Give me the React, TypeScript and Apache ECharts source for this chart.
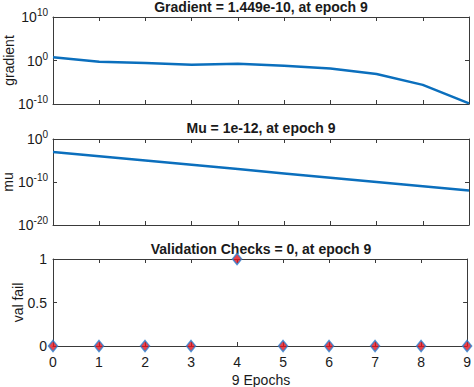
import React, { useEffect, useRef } from "react";
import * as echarts from "echarts";

const epochs = [0, 1, 2, 3, 4, 5, 6, 7, 8, 9];
const gradient = [5.9, 0.5, 0.25, 0.1, 0.17, 0.06, 0.014, 8e-4, 2.5e-6, 1.449e-10];
const mu = [1e-3, 1e-4, 1e-5, 1e-6, 1e-7, 1e-8, 1e-9, 1e-10, 1e-11, 1e-12];
const valFail = [0, 0, 0, 0, 1, 0, 0, 0, 0, 0];
const titles = [
  "Gradient = 1.449e-10, at epoch 9",
  "Mu = 1e-12, at epoch 9",
  "Validation Checks = 0, at epoch 9",
];
const yNames = ["gradient", "mu", "val fail"];
const xName = "9 Epochs";

const FONT = "'Liberation Sans', Arial, Helvetica, sans-serif";
const AXIS_COLOR = "#3a3a3a";
const TEXT_COLOR = "#1a1a1a";
const LINE_COLOR = "#0b6fbd";

const grids = [
  { left: 53, top: 17, width: 416, height: 87 },
  { left: 53, top: 139, width: 416, height: 86 },
  { left: 53, top: 259, width: 416, height: 87 },
];

const supFormatter = (v: number) => {
  const e = Math.round(Math.log10(v));
  return `{b|10}{s|${e}}`;
};

const richLabel = {
  b: { fontSize: 14, fontFamily: FONT, color: TEXT_COLOR },
  s: { fontSize: 10, fontFamily: FONT, color: TEXT_COLOR, padding: [0, 0, 9, 0] },
};

function xAxes(gridIndex: number, showLabels: boolean) {
  const base = {
    type: "value" as const,
    gridIndex,
    min: 0,
    max: 9,
    interval: 1,
    axisLine: { show: true, onZero: false, lineStyle: { color: AXIS_COLOR, width: 1 } },
    axisTick: { show: true, inside: true, length: 4, lineStyle: { color: AXIS_COLOR } },
    splitLine: { show: false },
  };
  return [
    {
      ...base,
      position: "bottom",
      axisLabel: {
        show: showLabels,
        fontSize: 14,
        fontFamily: FONT,
        color: TEXT_COLOR,
        margin: 9,
      },
    },
    { ...base, position: "top", axisLabel: { show: false } },
  ];
}

function yAxesLog(gridIndex: number, min: number, max: number) {
  const base = {
    type: "log" as const,
    logBase: 10,
    gridIndex,
    min,
    max,
    interval: 10,
    axisLine: { show: true, onZero: false, lineStyle: { color: AXIS_COLOR, width: 1 } },
    axisTick: { show: true, inside: true, length: 4, lineStyle: { color: AXIS_COLOR } },
    minorTick: { show: false },
    splitLine: { show: false },
  };
  return [
    {
      ...base,
      position: "left",
      axisLabel: {
        show: true,
        margin: 5,
        formatter: supFormatter,
        rich: richLabel,
      },
    },
    { ...base, position: "right", axisLabel: { show: false } },
  ];
}

function yAxesLin(gridIndex: number) {
  const base = {
    type: "value" as const,
    gridIndex,
    min: 0,
    max: 1,
    interval: 0.5,
    axisLine: { show: true, onZero: false, lineStyle: { color: AXIS_COLOR, width: 1 } },
    axisTick: { show: true, inside: true, length: 4, lineStyle: { color: AXIS_COLOR } },
    splitLine: { show: false },
  };
  return [
    {
      ...base,
      position: "left",
      axisLabel: { show: true, fontSize: 14, fontFamily: FONT, color: TEXT_COLOR, margin: 6 },
    },
    { ...base, position: "right", axisLabel: { show: false } },
  ];
}

export default function App() {
  const ref = useRef<HTMLDivElement>(null);
  useEffect(() => {
    if (!ref.current) return;
    const chart = echarts.init(ref.current, undefined, { renderer: "svg" });
    const titleY = [7, 128, 248.5];
    const nameX = [8.5, 8, 18];
    const nameY = grids.map((g) => g.top + g.height / 2);
    const graphics: any[] = [];
    titles.forEach((t, i) => {
      graphics.push({
        type: "text",
        x: 261,
        y: titleY[i],
        style: {
          text: t,
          fontSize: 14,
          fontWeight: "bold",
          fontFamily: FONT,
          fill: TEXT_COLOR,
          textAlign: "center",
          textVerticalAlign: "middle",
        },
      });
    });
    yNames.forEach((n, i) => {
      graphics.push({
        type: "text",
        x: nameX[i],
        y: nameY[i],
        rotation: Math.PI / 2,
        style: {
          text: n,
          fontSize: 14,
          fontFamily: FONT,
          fill: TEXT_COLOR,
          textAlign: "center",
          textVerticalAlign: "middle",
        },
      });
    });
    graphics.push({
      type: "text",
      x: 261,
      y: 380,
      style: {
        text: xName,
        fontSize: 14,
        fontFamily: FONT,
        fill: TEXT_COLOR,
        textAlign: "center",
        textVerticalAlign: "middle",
      },
    });

    const option: any = {
      animation: false,
      backgroundColor: "#ffffff",
      grid: grids,
      xAxis: [...xAxes(0, false), ...xAxes(1, false), ...xAxes(2, true)],
      yAxis: [...yAxesLog(0, 1e-10, 1e10), ...yAxesLog(1, 1e-20, 1), ...yAxesLin(2)],
      graphic: graphics,
      series: [
        {
          type: "line",
          xAxisIndex: 0,
          yAxisIndex: 0,
          data: epochs.map((e, i) => [e, gradient[i]]),
          showSymbol: false,
          lineStyle: { color: LINE_COLOR, width: 2.5 },
        },
        {
          type: "line",
          xAxisIndex: 2,
          yAxisIndex: 2,
          data: epochs.map((e, i) => [e, mu[i]]),
          showSymbol: false,
          lineStyle: { color: LINE_COLOR, width: 2.5 },
        },
        {
          type: "scatter",
          xAxisIndex: 4,
          yAxisIndex: 4,
          data: epochs.map((e, i) => [e, valFail[i]]),
          symbol: "diamond",
          symbolSize: [9, 11],
          clip: false,
          itemStyle: { color: "#e3141e", borderColor: "#2a7fd0", borderWidth: 1.5 },
        },
      ],
    };
    chart.setOption(option);
    return () => chart.dispose();
  }, []);
  return (
    <div
      ref={ref}
      style={{ position: "absolute", left: 0, top: 0, width: 474, height: 387 }}
    />
  );
}
